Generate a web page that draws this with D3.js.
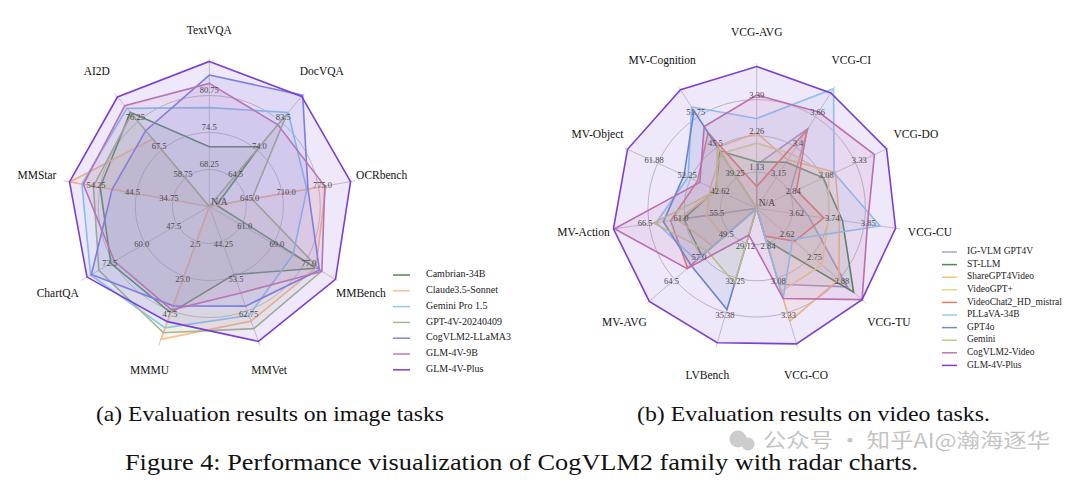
<!DOCTYPE html>
<html>
<head>
<meta charset="utf-8">
<script src="https://cdn.jsdelivr.net/npm/d3@7/dist/d3.min.js"></script>
<style>
body { margin: 0; background: #fff; }
svg text { font-family: "Liberation Serif", "DejaVu Serif", serif; }
</style>
</head>
<body>
<div id="root"></div>
<script>
// ---------- (a) image tasks ----------
var imgAxes = ["TextVQA", "DocVQA", "OCRbench", "MMBench", "MMVet", "MMMU", "ChartQA", "MMStar", "AI2D"];
var imgMin = [62, 55, 580, 53, 35, -20, 35, 25, 50];
var imgStep = [6.25, 9.5, 65, 8, 9.25, 22.5, 12.5, 9.75, 8.75];
var imgTicks = [
  ["68.25", "74.5", "80.75"], ["64.5", "74.0", "83.5"], ["645.0", "710.0", "775.0"],
  ["61.0", "69.0", "77.0"], ["44.25", "53.5", "62.75"], ["2.5", "25.0", "47.5"],
  ["47.5", "60.0", "72.5"], ["34.75", "44.5", "54.25"], ["58.75", "67.5", "76.25"]
];
var imgModels = ["Cambrian-34B", "Claude3.5-Sonnet", "Gemini Pro 1.5", "GPT-4V-20240409",
  "CogVLM2-LLaMA3", "GLM-4V-9B", "GLM-4V-Plus"];
var imgColors = ["#4f8a4f", "#f7c08c", "#8ccbf0", "#a3b98f", "#7f86e6", "#c27bb0", "#7a3fd6"];
var imgValues = [
  [72.1, 75.0, 593, 79.7, 53.1, 48.8, 73.4, 54.2, 79.1],
  [null, null, 788, 79.6, 65.5, 66.0, null, 62.3, 70.8],
  [78.7, 86.5, 754, 73.9, 64.0, 58.5, 81.3, 59.1, 80.3],
  [null, 86.0, 656, 81.0, 67.5, 61.7, 78.1, 56.0, 78.6],
  [84.2, 92.3, 756, 80.5, 61.5, 44.3, 81.0, 51.0, 73.4],
  [82.8, 82.4, 786, 81.1, 58.0, 46.9, 72.0, 58.7, 81.1],
  [86.5, 91.9, 832, 84.5, 70.9, 54.5, 82.7, 62.4, 83.8]
];

// ---------- (b) video tasks ----------
var vidAxes = ["VCG-AVG", "VCG-CI", "VCG-DO", "VCG-CU", "VCG-TU", "VCG-CO", "LVBench",
  "MV-AVG", "MV-Action", "MV-Object", "MV-Cognition"];
var vidMin = [0, 2.895, 2.595, 3.505, 2.49, 2.595, 26, 42, 50, 33, 33];
var vidStep = [1.13, 0.255, 0.245, 0.115, 0.13, 0.245, 3.125, 7.5, 5.5, 9.625, 6.25];
var vidTicks = [
  ["1.13", "2.26", "3.39"], ["3.15", "3.4", "3.66"], ["2.84", "3.08", "3.33"],
  ["3.62", "3.74", "3.85"], ["2.62", "2.75", "2.88"], ["2.84", "3.08", "3.33"],
  ["29.12", "32.25", "35.38"], ["49.5", "57.0", "64.5"], ["55.5", "61.0", "66.5"],
  ["42.62", "52.25", "61.88"], ["39.25", "45.5", "51.75"]
];
var vidModels = ["IG-VLM GPT4V", "ST-LLM", "ShareGPT4Video", "VideoGPT+", "VideoChat2_HD_mistral",
  "PLLaVA-34B", "GPT4o", "Gemini", "CogVLM2-Video", "GLM-4V-Plus"];
var vidColors = ["#a7a3c4", "#4f8a4f", "#f6c27a", "#eed38e", "#ec7a66",
  "#93cdf2", "#6b8fc6", "#c8cb7e", "#c673a8", "#7a3fd6"];
var vidValues = [
  [1.36, 3.56, 2.84, 3.67, 2.92, 3.13, null, null, 61.0, null, null],
  [1.45, 3.28, 3.09, 3.78, 2.95, 2.82, null, 57.0, 61.2, 44.9, 44.75],
  [2.35, 3.30, 3.18, 3.77, 2.88, 3.39, null, 54.0, 62.1, 44.55, 45.5],
  [2.03, 3.35, 3.13, 3.735, 2.80, 3.18, null, 51.0, 57.7, 46.5, 44.25],
  [0.68, 3.55, 2.89, 3.72, 2.67, 2.79, null, 60.9, 63.2, 50.3, 48.5],
  [2.80, 3.895, 3.17, 3.90, 2.66, 3.23, null, 58.5, 65.4, 53.0, 53.75],
  [null, null, null, null, null, null, 35.1, 60.0, 64.3, 54.2, 53.0],
  [null, null, null, null, null, null, 32.75, 55.5, 65.8, 44.55, 45.5],
  [3.53, 3.70, 3.47, 3.86, 2.99, 3.23, 28.4, 61.05, 71.8, 49.6, 49.75],
  [4.42, 3.86, 3.56, 3.95, 2.99, 3.55, 38.08, 71.4, 71.96, 70.7, 57.3]
];

var svg = d3.select("#root").append("svg")
  .attr("width", 1080).attr("height", 484);

function drawRadar(cfg) {
  var n = cfg.axes.length;
  var angle = d3.scaleLinear().domain([0, n]).range([0, 2 * Math.PI]);
  var radius = cfg.axes.map(function(a, i) {
    return d3.scaleLinear().domain([cfg.min[i], cfg.min[i] + 4 * cfg.step[i]]).range([0, cfg.R]);
  });
  var g = svg.append("g").attr("transform", "translate(" + cfg.cx + "," + cfg.cy + ")");

  // grid rings + spokes
  g.selectAll("circle.ring").data([1, 2, 3]).enter().append("circle")
    .attr("class", "ring")
    .attr("r", function(k) { return k * cfg.R / 4; })
    .attr("fill", "none").attr("stroke", "#b4b4b4").attr("stroke-width", 0.8);
  g.selectAll("line.spoke").data(cfg.axes).enter().append("line")
    .attr("class", "spoke")
    .attr("x2", function(d, i) { return d3.pointRadial(angle(i), cfg.R)[0]; })
    .attr("y2", function(d, i) { return d3.pointRadial(angle(i), cfg.R)[1]; })
    .attr("stroke", "#bdbdbd").attr("stroke-width", 0.8);

  // series
  var line = d3.lineRadial()
    .angle(function(d, i) { return angle(i); })
    .radius(function(d, i) { return d == null ? 0 : radius[i](d); })
    .curve(d3.curveLinearClosed);
  g.selectAll("path.series").data(cfg.values).enter().append("path")
    .attr("class", "series")
    .attr("d", line)
    .attr("fill", function(d, i) { return cfg.colors[i]; })
    .attr("fill-opacity", 0.12)
    .attr("stroke", function(d, i) { return cfg.colors[i]; })
    .attr("stroke-width", 1.6)
    .attr("stroke-linejoin", "miter");

  // tick labels along each axis
  var tickData = [];
  cfg.ticks.forEach(function(arr, i) {
    arr.forEach(function(t, k) { tickData.push({ i: i, k: k + 1, t: t }); });
  });
  g.selectAll("text.tick").data(tickData).enter().append("text")
    .attr("class", "tick")
    .attr("x", function(d) { return d3.pointRadial(angle(d.i), d.k * cfg.R / 4 + 4)[0]; })
    .attr("y", function(d) { return d3.pointRadial(angle(d.i), d.k * cfg.R / 4 + 4)[1]; })
    .attr("text-anchor", "middle").attr("dominant-baseline", "middle")
    .style("font-size", "8.5px").style("fill", "#4a4a4a")
    .text(function(d) { return d.t; });
  g.append("text").attr("x", 2).attr("y", -2)
    .style("font-size", "9.5px").style("fill", "#4a4a4a").text("N/A");

  // axis names
  g.selectAll("text.axis").data(cfg.axes).enter().append("text")
    .attr("class", "axis")
    .attr("x", function(d, i) { return d3.pointRadial(angle(i), cfg.labelR)[0]; })
    .attr("y", function(d, i) { return d3.pointRadial(angle(i), cfg.labelR)[1]; })
    .attr("text-anchor", "middle").attr("dominant-baseline", "middle")
    .style("font-size", "11.5px").style("fill", "#111")
    .text(function(d) { return d; });

  // legend
  var lg = svg.append("g").attr("transform", "translate(" + cfg.legX + "," + cfg.legY + ")");
  var row = lg.selectAll("g").data(cfg.models).enter().append("g")
    .attr("transform", function(d, i) { return "translate(0," + i * cfg.legGap + ")"; });
  row.append("line").attr("x2", cfg.legLine)
    .attr("stroke", function(d, i) { return cfg.colors[i]; }).attr("stroke-width", 1.5);
  row.append("text").attr("x", cfg.legLine + cfg.legPad).attr("dominant-baseline", "middle")
    .style("font-size", cfg.legFont).style("fill", "#222")
    .text(function(d) { return d; });
}

drawRadar({
  cx: 209.3, cy: 206.5, R: 148, labelR: 175,
  axes: imgAxes, min: imgMin, step: imgStep, ticks: imgTicks,
  models: imgModels, colors: imgColors, values: imgValues,
  legX: 393, legY: 275, legGap: 15.8, legLine: 17, legPad: 16, legFont: "10px"
});

drawRadar({
  cx: 756.7, cy: 208.3, R: 145, labelR: 175,
  axes: vidAxes, min: vidMin, step: vidStep, ticks: vidTicks,
  models: vidModels, colors: vidColors, values: vidValues,
  legX: 942, legY: 252, legGap: 12.6, legLine: 15, legPad: 10, legFont: "9.5px"
});

// captions
svg.append("text").attr("x", 270).attr("y", 421).attr("text-anchor", "middle")
  .attr("textLength", 348).attr("lengthAdjust", "spacingAndGlyphs")
  .style("font-size", "21px").style("fill", "#111")
  .text("(a) Evaluation results on image tasks");
svg.append("text").attr("x", 813.5).attr("y", 421).attr("text-anchor", "middle")
  .attr("textLength", 353).attr("lengthAdjust", "spacingAndGlyphs")
  .style("font-size", "21px").style("fill", "#111")
  .text("(b) Evaluation results on video tasks.");
svg.append("text").attr("x", 521.5).attr("y", 470).attr("text-anchor", "middle")
  .attr("textLength", 793).attr("lengthAdjust", "spacingAndGlyphs")
  .style("font-size", "23px").style("fill", "#111")
  .text("Figure 4: Performance visualization of CogVLM2 family with radar charts.");

// watermark
var wm = svg.append("g").attr("opacity", 0.5);
wm.append("circle").attr("cx", 738).attr("cy", 439).attr("r", 8.5).attr("fill", "#9a9a9a");
wm.append("circle").attr("cx", 748).attr("cy", 444).attr("r", 6.5).attr("fill", "#9a9a9a");
wm.append("text").attr("x", 763).attr("y", 448)
  .attr("textLength", 287).attr("lengthAdjust", "spacingAndGlyphs")
  .style("font-family", "'Noto Sans CJK SC', sans-serif").style("font-size", "20px").style("fill", "#8a8a8a")
  .text("公众号 · 知乎AI@瀚海逐华");
</script>
</body>
</html>
